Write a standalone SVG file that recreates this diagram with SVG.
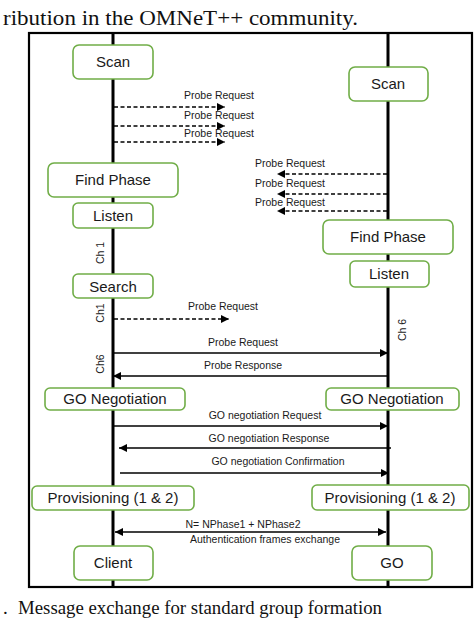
<svg xmlns="http://www.w3.org/2000/svg" width="474" height="627" viewBox="0 0 474 627">
<style>
.box{fill:#fff;stroke:#70AD47;stroke-width:1.6}
.bt{font-family:"Liberation Sans",Arial,sans-serif;font-size:15px;fill:#1a1a1a;text-anchor:middle}
.lbl{font-family:"Liberation Sans",Arial,sans-serif;font-size:10.5px;fill:#1a1a1a;text-anchor:middle}
.ch{font-family:"Liberation Sans",Arial,sans-serif;font-size:10.5px;fill:#1a1a1a;text-anchor:middle}
.life{stroke:#000;stroke-width:3}
.msg{stroke:#000;stroke-width:1.4;fill:none}
.dash{stroke:#000;stroke-width:1.6;fill:none;stroke-dasharray:4 2.5}
.cap{font-family:"Liberation Serif","Times New Roman",serif;font-size:19px;fill:#111}
</style>
<defs>
<marker id="ah" markerUnits="userSpaceOnUse" markerWidth="9" markerHeight="8" refX="8" refY="4" orient="auto">
<path d="M0,0 L8,4 L0,8 Z" fill="#000"/>
</marker>
<marker id="as" markerUnits="userSpaceOnUse" markerWidth="9" markerHeight="8" refX="8" refY="4" orient="auto-start-reverse">
<path d="M0,0 L8,4 L0,8 Z" fill="#000"/>
</marker>
</defs>
<rect width="474" height="627" fill="#fff"/>
<text class="cap" x="3" y="25" style="font-size:21px" textLength="355" lengthAdjust="spacingAndGlyphs">ribution in the OMNeT++ community.</text>
<rect x="29" y="33" width="443" height="554" fill="none" stroke="#000" stroke-width="2.2"/>
<g id="lifelines">
<line class="life" x1="113" y1="33" x2="113" y2="587"/>
<line class="life" x1="388" y1="33" x2="388" y2="587"/>
</g>
<g id="connectors">
<line class="dash" x1="114" y1="107" x2="225" y2="107" marker-end="url(#ah)"/>
<line class="dash" x1="114" y1="126" x2="225" y2="126" marker-end="url(#ah)"/>
<line class="dash" x1="114" y1="142" x2="225" y2="142" marker-end="url(#ah)"/>
<text class="lbl" x="219" y="99">Probe Request</text>
<text class="lbl" x="219" y="119">Probe Request</text>
<text class="lbl" x="219" y="137">Probe Request</text>
<line class="dash" x1="387" y1="174" x2="277" y2="174" marker-end="url(#ah)"/>
<line class="dash" x1="387" y1="194" x2="277" y2="194" marker-end="url(#ah)"/>
<line class="dash" x1="387" y1="211" x2="277" y2="211" marker-end="url(#ah)"/>
<text class="lbl" x="290" y="167">Probe Request</text>
<text class="lbl" x="290" y="187">Probe Request</text>
<text class="lbl" x="290" y="206">Probe Request</text>
<line class="dash" x1="114" y1="319" x2="229" y2="319" marker-end="url(#ah)"/>
<text class="lbl" x="223" y="310">Probe Request</text>
<line class="msg" x1="114" y1="353" x2="388" y2="353" marker-end="url(#ah)"/>
<text class="lbl" x="243" y="346">Probe Request</text>
<line class="msg" x1="387" y1="376" x2="113" y2="376" marker-end="url(#ah)"/>
<text class="lbl" x="243" y="369">Probe Response</text>
<line class="msg" x1="114" y1="426" x2="388" y2="426" marker-end="url(#ah)"/>
<text class="lbl" x="265" y="419">GO negotiation Request</text>
<line class="msg" x1="391" y1="448" x2="119" y2="448" marker-end="url(#ah)"/>
<text class="lbl" x="269" y="442">GO negotiation Response</text>
<line class="msg" x1="120" y1="473" x2="389" y2="473" marker-end="url(#ah)"/>
<text class="lbl" x="278" y="465">GO negotiation Confirmation</text>
<line class="msg" x1="115" y1="532" x2="386" y2="532" marker-start="url(#as)" marker-end="url(#as)"/>
<text class="lbl" x="243" y="528">N= NPhase1 + NPhase2</text>
<text class="lbl" x="265" y="543">Authentication frames exchange</text>
<text class="ch" transform="translate(104,253) rotate(-90)">Ch 1</text>
<text class="ch" transform="translate(104,313) rotate(-90)">Ch1</text>
<text class="ch" transform="translate(104,364) rotate(-90)">Ch6</text>
<text class="ch" transform="translate(406,330) rotate(-90)">Ch 6</text>
</g>
<g id="scan-l"><rect class="box" x="73" y="45" width="80" height="34" rx="6"/><text class="bt" x="113" y="67">Scan</text></g>
<g id="scan-r"><rect class="box" x="349" y="67" width="79" height="34" rx="6"/><text class="bt" x="388" y="89">Scan</text></g>
<g id="find-l"><rect class="box" x="48" y="163" width="130" height="34" rx="6"/><text class="bt" x="113" y="185">Find Phase</text></g>
<g id="listen-l"><rect class="box" x="73" y="203" width="80" height="25" rx="5"/><text class="bt" x="113" y="221">Listen</text></g>
<g id="search-l"><rect class="box" x="73" y="274" width="80" height="24" rx="5"/><text class="bt" x="113" y="292">Search</text></g>
<g id="find-r"><rect class="box" x="323" y="220" width="130" height="34" rx="6"/><text class="bt" x="388" y="242">Find Phase</text></g>
<g id="listen-r"><rect class="box" x="350" y="261" width="79" height="26" rx="5"/><text class="bt" x="389" y="279">Listen</text></g>
<g id="gon-l"><rect class="box" x="45" y="388" width="140" height="22" rx="5"/><text class="bt" x="115" y="404">GO Negotiation</text></g>
<g id="gon-r"><rect class="box" x="326" y="388" width="133" height="22" rx="5"/><text class="bt" x="392" y="404">GO Negotiation</text></g>
<g id="prov-l"><rect class="box" x="32" y="486" width="162" height="24" rx="5"/><text class="bt" x="113" y="503">Provisioning (1 &amp; 2)</text></g>
<g id="prov-r"><rect class="box" x="312" y="485" width="157" height="25" rx="5"/><text class="bt" x="390" y="503">Provisioning (1 &amp; 2)</text></g>
<g id="client"><rect class="box" x="74" y="546" width="79" height="34" rx="6"/><text class="bt" x="113" y="568">Client</text></g>
<g id="go"><rect class="box" x="352" y="546" width="80" height="34" rx="6"/><text class="bt" x="392" y="568">GO</text></g>
<text class="cap" x="3" y="614">.</text>
<text class="cap" x="18" y="614" textLength="364" lengthAdjust="spacingAndGlyphs">Message exchange for standard group formation</text>
</svg>
